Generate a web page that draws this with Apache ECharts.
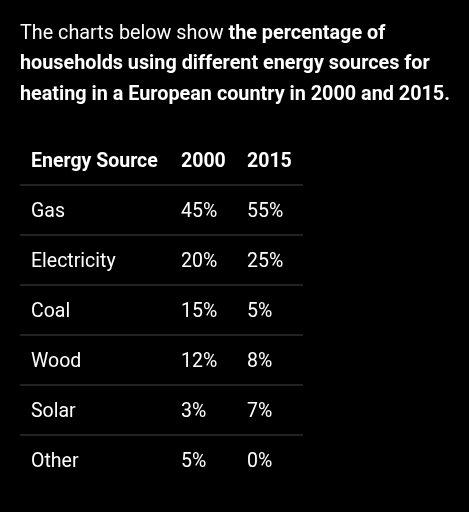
<!DOCTYPE html>
<html>
<head>
<meta charset="utf-8">
<script src="https://cdn.jsdelivr.net/npm/echarts@6/dist/echarts.min.js"></script>
<style>
html,body{margin:0;padding:0;background:#000;}
#chart{width:469px;height:512px;}
</style>
</head>
<body>
<div id="chart"></div>
<script>
var headers = ['Energy Source', '2000', '2015'];
var sources = ['Gas', 'Electricity', 'Coal', 'Wood', 'Solar', 'Other'];
var values2000 = [45, 20, 15, 12, 3, 5];
var values2015 = [55, 25, 5, 8, 7, 0];

var rowNames = ['header'].concat(sources);
var colX = [11, 161, 227]; // column text offsets from grid left
var FONT = 'Roboto, "Noto Sans", sans-serif';

var chart = echarts.init(document.getElementById('chart'));
var data = rowNames.map(function (n, i) { return [0, i]; });

chart.setOption({
  backgroundColor: '#000',
  title: {
    left: 20, top: 18.5, padding: 0,
    text: 'The charts below show {b|the percentage of}\n{b|households using different energy sources for}\n{b|heating in a European country in 2000 and 2015.}',
    textStyle: {
      color: '#fff', fontSize: 19.8, fontWeight: 'normal', fontFamily: FONT, lineHeight: 30.5,
      rich: { b: { color: '#fff', fontSize: 19.8, fontWeight: 'bold', fontFamily: FONT, lineHeight: 30.5 } }
    }
  },
  grid: { left: 20, top: 135, width: 283, height: 350 },
  xAxis: { type: 'value', min: 0, max: 1, show: false },
  yAxis: { type: 'category', data: rowNames, inverse: true, show: false },
  series: [{
    type: 'custom',
    data: data,
    renderItem: function (params, api) {
      var idx = api.value(1);
      var p = api.coord([0, idx]);
      var band = api.size([0, 1])[1];
      var left = params.coordSys.x;
      var w = params.coordSys.width;
      var cy = p[1];
      var texts, bold;
      if (idx === 0) {
        texts = headers; bold = true;
      } else {
        texts = [sources[idx - 1], values2000[idx - 1] + '%', values2015[idx - 1] + '%'];
        bold = false;
      }
      var children = texts.map(function (t, c) {
        return {
          type: 'text',
          style: {
            x: left + colX[c], y: cy + 2, text: t,
            fill: '#fff', font: (bold ? 'bold ' : '') + '19.5px ' + FONT,
            textVerticalAlign: 'middle', textAlign: 'left'
          }
        };
      });
      if (idx < rowNames.length - 1) {
        children.push({
          type: 'line',
          shape: { x1: left, y1: cy + band / 2, x2: left + w, y2: cy + band / 2 },
          style: { stroke: '#2e2e2e', lineWidth: 1.5 }
        });
      }
      return { type: 'group', children: children };
    }
  }]
});
</script>
</body>
</html>
